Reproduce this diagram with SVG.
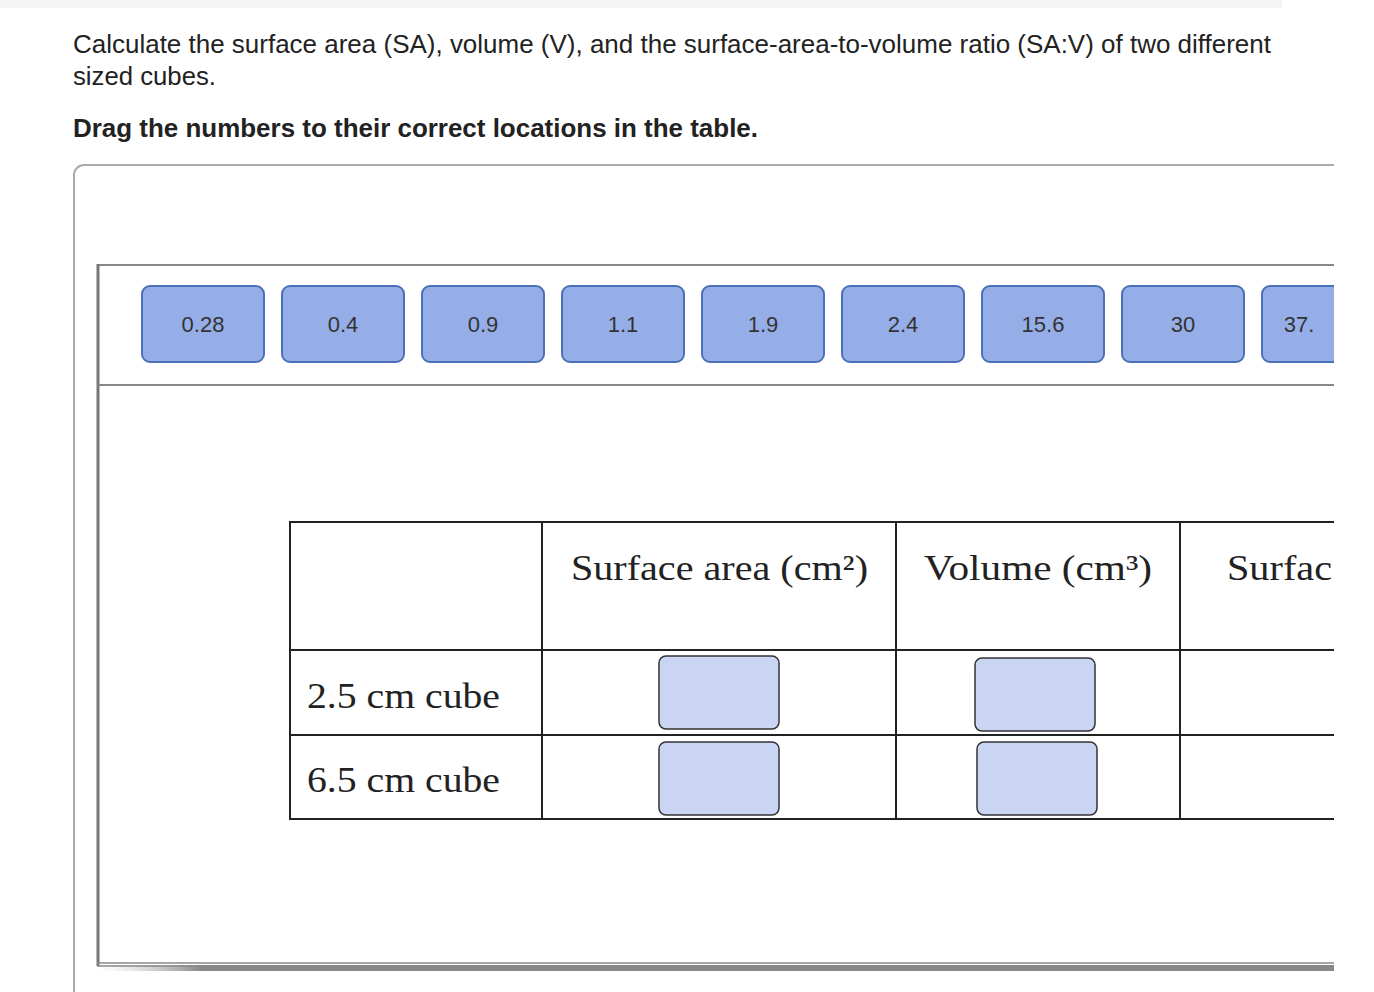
<svg xmlns="http://www.w3.org/2000/svg" width="1374" height="992" viewBox="0 0 1374 992">
<style>
.q{font-family:"Helvetica","Liberation Sans",Arial,sans-serif;fill:#222;font-size:25px}
.tile rect{fill:#96aee8;stroke:#4a70b8;stroke-width:2}
.tile text{font-family:"Helvetica","Liberation Sans",Arial,sans-serif;font-size:22px;fill:#333;text-anchor:middle}
.drop{fill:#c9d5f3;stroke:#333;stroke-width:1.5}
.s{font-family:"Liberation Serif","Times New Roman",serif;font-size:36px;fill:#222}
.tl{stroke:#222;stroke-width:2;fill:none}
</style>
<defs>
<clipPath id="c"><rect x="0" y="0" width="1334" height="992"/></clipPath>
<linearGradient id="sh" x1="0" x2="1" y1="0" y2="0"><stop offset="0" stop-color="#ccc" stop-opacity="0"/><stop offset="0.08" stop-color="#888"/><stop offset="1" stop-color="#888"/></linearGradient>
</defs>
<rect width="1374" height="992" fill="#fff"/>
<rect x="0" y="0" width="1282" height="8" fill="#f5f5f5"/>
<text class="q" x="73" y="53" textLength="1198" lengthAdjust="spacingAndGlyphs">Calculate the surface area (SA), volume (V), and the surface-area-to-volume ratio (SA:V) of two different</text>
<text class="q" x="73" y="85" textLength="143" lengthAdjust="spacingAndGlyphs">sized cubes.</text>
<text class="q" x="73" y="137" font-weight="bold" textLength="685" lengthAdjust="spacingAndGlyphs">Drag the numbers to their correct locations in the table.</text>
<g clip-path="url(#c)">
<rect x="74" y="165" width="1400" height="900" rx="10" fill="#fff" stroke="#aaa" stroke-width="2"/>
<rect x="98" y="965" width="1300" height="6" fill="url(#sh)"/>
<g fill="none">
<line x1="97" y1="265" x2="1334" y2="265" stroke="#888" stroke-width="2"/>
<line x1="98" y1="264" x2="98" y2="966" stroke="#777" stroke-width="3"/>
<line x1="98" y1="385" x2="1334" y2="385" stroke="#888" stroke-width="2"/>
<line x1="97" y1="963" x2="1334" y2="963" stroke="#888" stroke-width="1.5"/>
<line x1="97" y1="966" x2="1334" y2="966" stroke="#888" stroke-width="1.5"/>
</g>
<g id="t1" class="tile"><rect x="142" y="286" width="122" height="76" rx="8"/><text x="203" y="332">0.28</text></g>
<g id="t2" class="tile"><rect x="282" y="286" width="122" height="76" rx="8"/><text x="343" y="332">0.4</text></g>
<g id="t3" class="tile"><rect x="422" y="286" width="122" height="76" rx="8"/><text x="483" y="332">0.9</text></g>
<g id="t4" class="tile"><rect x="562" y="286" width="122" height="76" rx="8"/><text x="623" y="332">1.1</text></g>
<g id="t5" class="tile"><rect x="702" y="286" width="122" height="76" rx="8"/><text x="763" y="332">1.9</text></g>
<g id="t6" class="tile"><rect x="842" y="286" width="122" height="76" rx="8"/><text x="903" y="332">2.4</text></g>
<g id="t7" class="tile"><rect x="982" y="286" width="122" height="76" rx="8"/><text x="1043" y="332">15.6</text></g>
<g id="t8" class="tile"><rect x="1122" y="286" width="122" height="76" rx="8"/><text x="1183" y="332">30</text></g>
<g id="t9" class="tile"><rect x="1262" y="286" width="122" height="76" rx="8"/><text x="1299" y="332" text-anchor="start">37.</text></g>
<g id="table">
<line class="tl" x1="290" y1="522" x2="1334" y2="522"/>
<line class="tl" x1="290" y1="650" x2="1334" y2="650"/>
<line class="tl" x1="290" y1="735" x2="1334" y2="735"/>
<line class="tl" x1="290" y1="819" x2="1334" y2="819"/>
<line class="tl" x1="290" y1="521" x2="290" y2="820"/>
<line class="tl" x1="542" y1="521" x2="542" y2="820"/>
<line class="tl" x1="896" y1="521" x2="896" y2="820"/>
<line class="tl" x1="1180" y1="521" x2="1180" y2="820"/>
<text class="s" x="571" y="580" textLength="297" lengthAdjust="spacingAndGlyphs">Surface area (cm²)</text>
<text class="s" x="924" y="580" textLength="228" lengthAdjust="spacingAndGlyphs">Volume (cm³)</text>
<text class="s" x="1227" y="580" textLength="105" lengthAdjust="spacingAndGlyphs">Surfac</text>
<text class="s" x="307" y="708" textLength="193" lengthAdjust="spacingAndGlyphs">2.5 cm cube</text>
<text class="s" x="307" y="792" textLength="193" lengthAdjust="spacingAndGlyphs">6.5 cm cube</text>
</g>
<rect id="d1" class="drop" x="659" y="656" width="120" height="73" rx="7"/>
<rect id="d2" class="drop" x="975" y="658" width="120" height="73" rx="7"/>
<rect id="d3" class="drop" x="659" y="742" width="120" height="73" rx="7"/>
<rect id="d4" class="drop" x="977" y="742" width="120" height="73" rx="7"/>
</g>
</svg>
